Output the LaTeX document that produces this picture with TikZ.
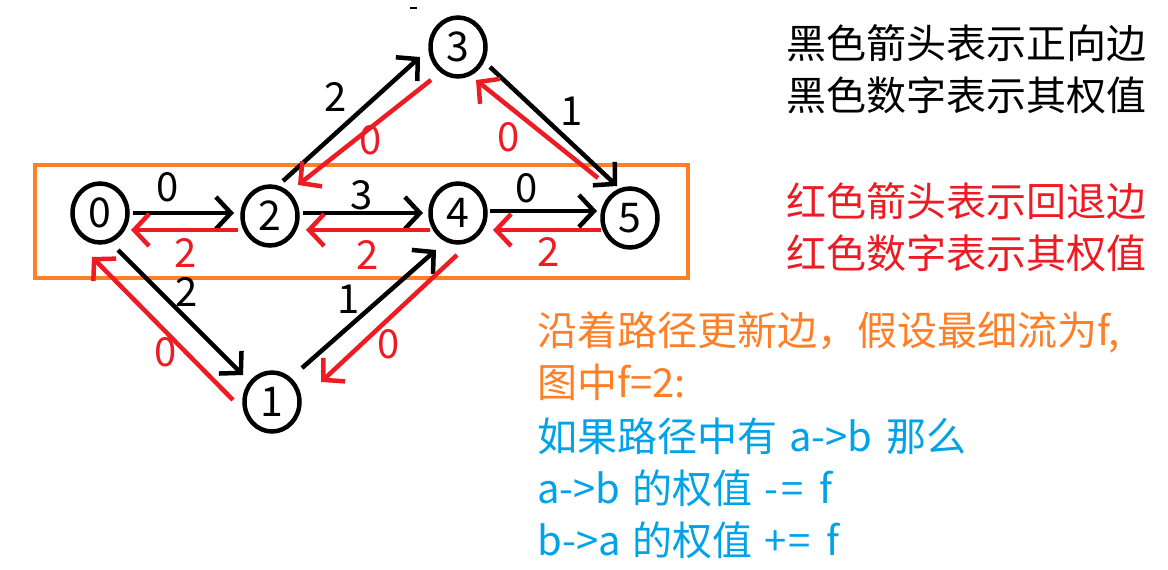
\documentclass[tikz,border=0pt]{standalone}
\usepackage{fontspec}
\setmainfont{Noto Sans CJK SC}
\usetikzlibrary{arrows.meta,shapes.geometric}
\definecolor{myred}{HTML}{ED1C24}
\definecolor{myorange}{HTML}{FF7F27}
\definecolor{myblue}{HTML}{00A2E8}
\begin{document}
\begin{tikzpicture}[x=1pt,y=-1pt,
  vertex/.style={ellipse, draw, line width=4.5pt, minimum width=55pt, minimum height=59pt, inner sep=0pt, font=\fontsize{41}{41}\selectfont},
  fwd/.style={line width=4.5pt, -{Straight Barb[length=15pt,width=32pt]}},
  back/.style={fwd, draw=myred},
  wlab/.style={inner sep=0pt, font=\fontsize{40}{40}\selectfont},
  rlab/.style={wlab, text=myred},
  txtbig/.style={anchor=west, inner sep=0pt, text height=33.2pt, text depth=2.8pt, font=\fontsize{40}{40}\selectfont},
  txtsm/.style={anchor=west, inner sep=0pt, text height=33.2pt, text depth=2.8pt, font=\fontsize{40}{40}\selectfont}
]
\useasboundingbox (0,0) rectangle (1168,570);
\fill[white] (0,0) rectangle (1168,570);

% orange box
\draw[myorange, line width=4.5pt] (35,165) rectangle (688,278);

% stray mark
\draw[line width=1.5pt] (410,8) -- (417,8);

% vertices
\node[vertex] (n0) at (100,213) {0};
\node[vertex] (n2) at (270,216) {2};
\node[vertex] (n4) at (458,213) {4};
\node[vertex] (n5) at (630,218) {5};
\node[vertex] (n3) at (458,47) {3};
\node[vertex] (n1) at (272,402) {1};

% forward (black) edges
\draw[fwd] ([shift={(33,0)}]n0.center) -- ([shift={(-36,-3)}]n2.center);
\draw[fwd] ([shift={(33,-3)}]n2.center) -- ([shift={(-35,0)}]n4.center);
\draw[fwd] ([shift={(32,-2)}]n4.center) -- ([shift={(-33,-7)}]n5.center);
\draw[fwd] ([shift={(13,-35)}]n2.center) -- ([shift={(-38,10)}]n3.center);
\draw[fwd] ([shift={(32,20)}]n3.center) -- ([shift={(-13,-32)}]n5.center);
\draw[fwd] ([shift={(18,37)}]n0.center) -- ([shift={(-29,-27)}]n1.center);
\draw[fwd] ([shift={(30,-34)}]n1.center) -- ([shift={(-22,37)}]n4.center);

% backward (red) edges
\draw[back] ([shift={(-32,14)}]n2.center) -- ([shift={(31,17)}]n0.center);
\draw[back] ([shift={(-28,17)}]n4.center) -- ([shift={(36,14)}]n2.center);
\draw[back] ([shift={(-29,12)}]n5.center) -- ([shift={(35,17)}]n4.center);
\draw[back] ([shift={(-27,33)}]n3.center) -- ([shift={(28,-31)}]n2.center);
\draw[back] ([shift={(-32,-40)}]n5.center) -- ([shift={(18,33)}]n3.center);
\draw[back] ([shift={(-39,-2)}]n1.center) -- ([shift={(-8,44)}]n0.center);
\draw[back] ([shift={(-1,42)}]n4.center) -- ([shift={(49,-20)}]n1.center);

% edge weights
\node[wlab] (w02) at (168,187) {0};
\node[rlab] (w20) at (186,253) {2};
\node[wlab] (w24) at (362,195) {3};
\node[rlab] (w42) at (368,255) {2};
\node[wlab] (w45) at (527,188) {0};
\node[rlab] (w54) at (549,252) {2};
\node[wlab] (w23) at (336,97) {2};
\node[rlab] (w32) at (371,140) {0};
\node[wlab] (w35) at (572,111) {1};
\node[rlab] (w53) at (509,137) {0};
\node[wlab] (w01) at (187,292) {2};
\node[rlab] (w10) at (166,352) {0};
\node[wlab] (w14) at (349,299) {1};
\node[rlab] (w41) at (389,344) {0};

% legend texts
\node[txtbig] (t1) at (786,43) {黑色箭头表示正向边};
\node[txtbig] (t2) at (786,95) {黑色数字表示其权值};
\node[txtbig, text=myred] (t3) at (786,201) {红色箭头表示回退边};
\node[txtbig, text=myred] (t4) at (786,253) {红色数字表示其权值};
\node[txtsm, text=myorange] (t5) at (537,330) {沿着路径更新边，假设最细流为f,};
\node[txtsm, text=myorange] (t6) at (537,382) {图中f=2:};
\node[txtsm, text=myblue] (t7) at (537,436) {如果路径中有\hspace{12pt}a->b\hspace{14pt}那么};
\node[txtsm, text=myblue] (t8) at (537,488) {a->b\hspace{12pt}的权值\hspace{12pt}-\hspace{3pt}=\hspace{16pt}f};
\node[txtsm, text=myblue] (t9) at (537,540) {b->a\hspace{12pt}的权值\hspace{12pt}+\hspace{1pt}=\hspace{16pt}f};
\end{tikzpicture}
\end{document}
